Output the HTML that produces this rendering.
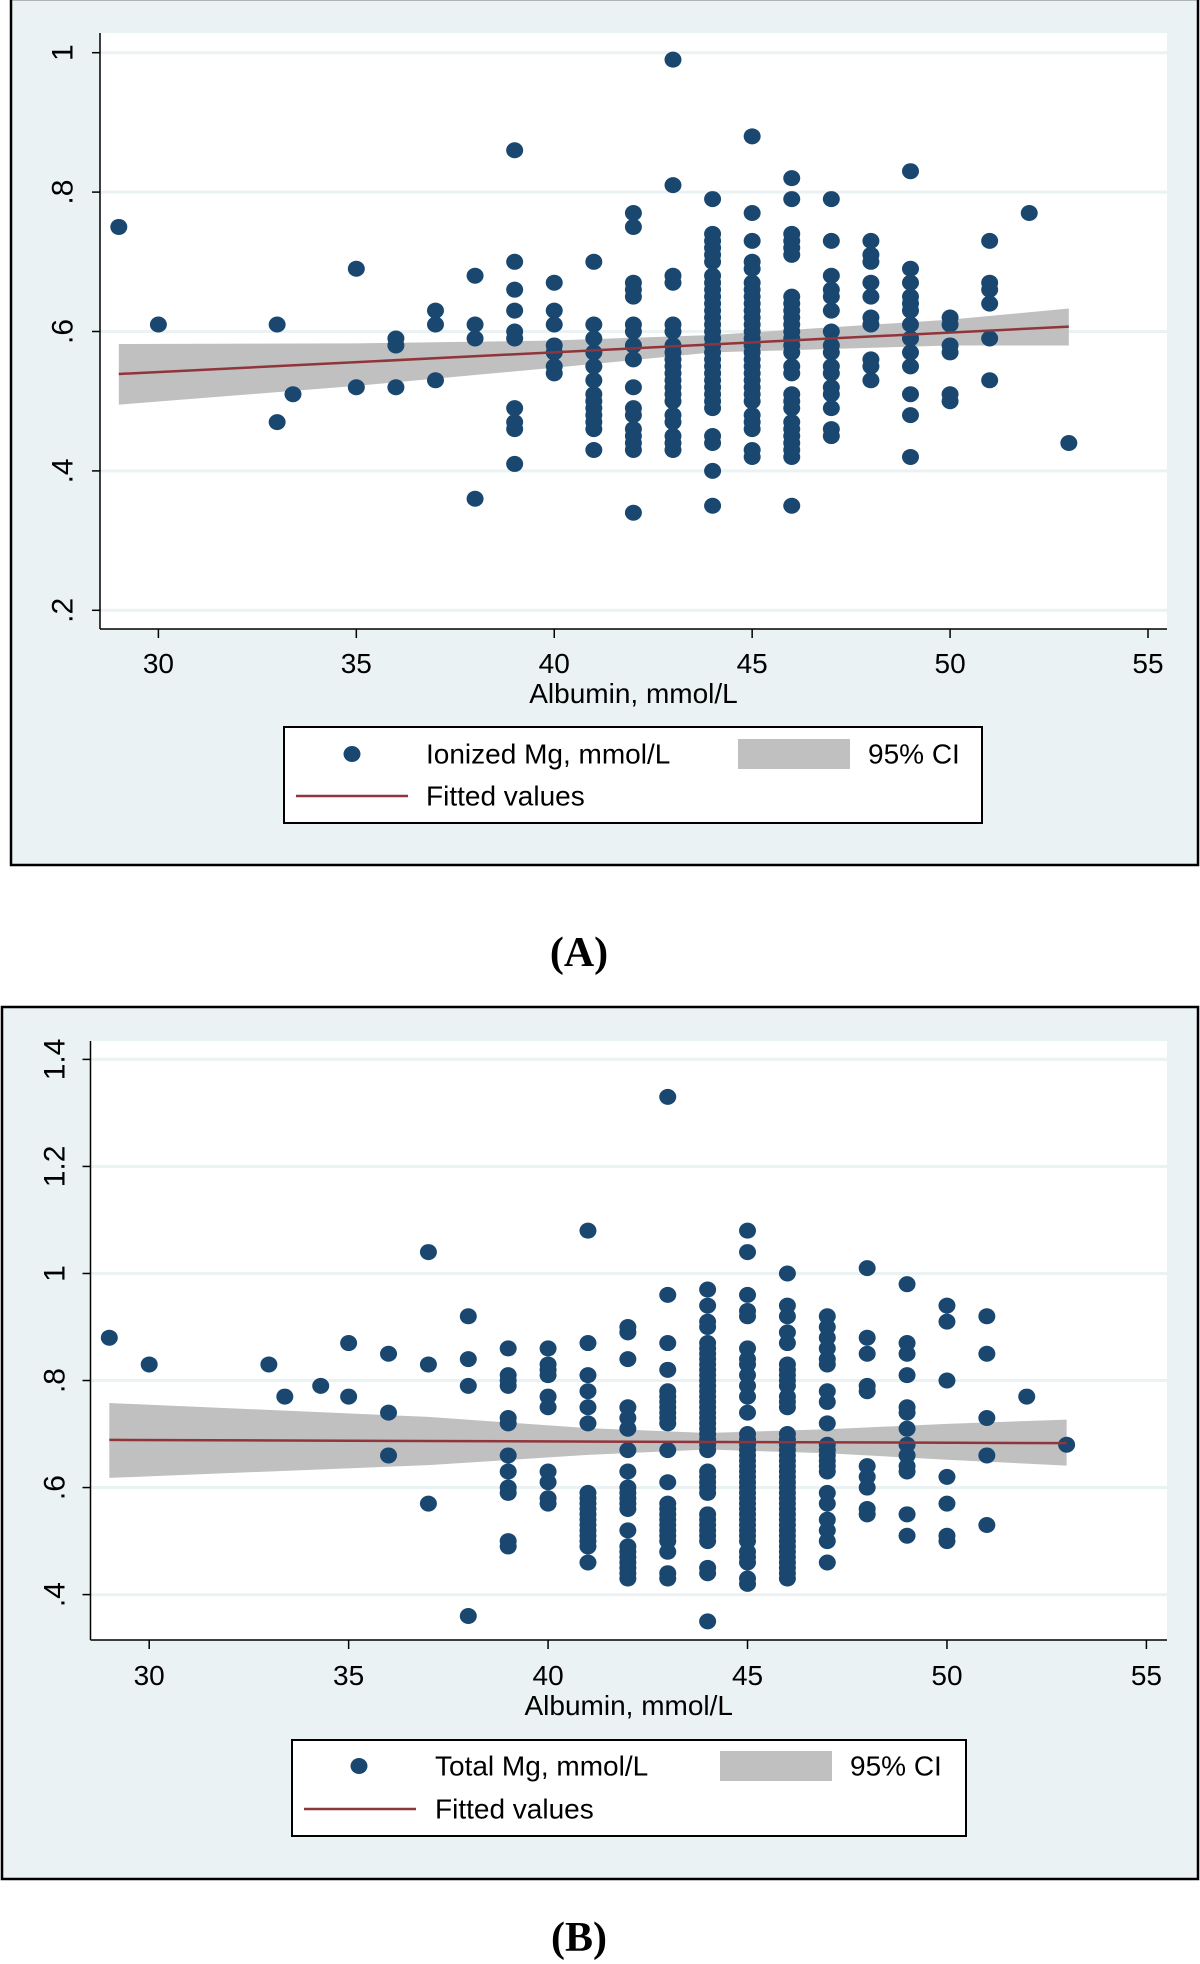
<!DOCTYPE html>
<html><head><meta charset="utf-8"><style>
html,body{margin:0;padding:0;background:#fff;width:1200px;height:1964px;overflow:hidden}
svg text{font-family:"Liberation Sans Narrow","Liberation Sans",sans-serif;fill:#000}
</style></head><body>
<svg id="fig" width="1200" height="1964" viewBox="0 0 1200 1964" xmlns="http://www.w3.org/2000/svg">
<g id="panelA"></g>
<g id="panelB"></g>
<text x="579" y="966" text-anchor="middle" style="font-family:'Liberation Serif',serif;font-weight:bold;font-size:42px">(A)</text>
<text x="579" y="1951" text-anchor="middle" style="font-family:'Liberation Serif',serif;font-weight:bold;font-size:42px">(B)</text>
</svg>
<script>
// ---- Panel A data ----
const aColX = [29,30,33,33.4,35,36,37,38,39,40,41,42,43,44,45,46,47,48,49,50,51,52,53];
const aColVals = [
 [.75],[.61],[.61,.47],[.51],[.69,.52],[.59,.58,.52],[.63,.61,.53],[.68,.61,.59,.36],
 [.86,.70,.66,.63,.60,.59,.49,.47,.46,.41],
 [.67,.63,.61,.58,.57,.55,.54],
 [.70,.61,.59,.57,.55,.53,.51,.50,.49,.48,.47,.46,.43],
 [.77,.75,.67,.66,.65,.61,.60,.58,.56,.52,.49,.48,.46,.45,.44,.43,.34],
 [.99,.81,.68,.67,.61,.60,.58,.57,.56,.55,.54,.53,.52,.51,.50,.48,.47,.45,.44,.43],
 [.79,.74,.73,.72,.71,.70,.68,.67,.66,.65,.64,.63,.62,.61,.60,.59,.58,.57,.56,.55,.54,.53,.52,.51,.50,.49,.45,.44,.40,.35],
 [.88,.77,.73,.70,.69,.67,.66,.65,.64,.63,.62,.61,.60,.59,.58,.57,.56,.55,.54,.53,.52,.51,.50,.48,.47,.46,.43,.42],
 [.82,.79,.74,.73,.72,.71,.65,.64,.63,.62,.61,.60,.59,.58,.57,.55,.54,.51,.50,.49,.47,.46,.45,.44,.43,.42,.35],
 [.79,.73,.68,.66,.65,.63,.60,.58,.57,.55,.54,.52,.51,.49,.46,.45],
 [.73,.71,.70,.67,.65,.62,.61,.56,.55,.53],
 [.83,.69,.67,.65,.64,.63,.61,.59,.57,.55,.51,.48,.42],
 [.62,.61,.58,.57,.51,.50],
 [.73,.67,.66,.64,.59,.53],[.77],[.44]
];
const aFitX = [29,53];
const aFitY = [.539,.607];
const aCiX  = [29,35,40,44,50,53];
const aCiHi = [.582,.583,.587,.595,.617,.633];
const aCiLo = [.495,.522,.548,.570,.580,.580];
const aYTicks = [.2,.4,.6,.8,1];
const aYLabels = [".2",".4",".6",".8","1"];
const xTicks = [30,35,40,45,50,55];
const xLabels = ["30","35","40","45","50","55"];

// ---- Panel B data ----
const bColX = [29,30,33,33.4,34.3,35,36,37,38,39,40,41,42,43,44,45,46,47,48,49,50,51,52,53];
const bColVals = [
 [.88],[.83],[.83],[.77],[.79],[.87,.77],[.85,.74,.66],[1.04,.83,.57],[.92,.84,.79,.36],
 [.86,.81,.80,.79,.73,.72,.66,.63,.60,.59,.50,.49],
 [.86,.83,.82,.81,.77,.75,.63,.61,.58,.57],
 [1.08,.87,.81,.78,.75,.72,.59,.58,.57,.56,.55,.54,.53,.52,.51,.50,.49,.46],
 [.90,.89,.84,.75,.73,.71,.67,.63,.60,.59,.58,.57,.56,.52,.49,.48,.47,.46,.45,.44,.43],
 [1.33,.96,.87,.82,.78,.77,.76,.75,.74,.73,.72,.67,.61,.57,.56,.55,.54,.53,.52,.51,.50,.48,.44,.43],
 [.97,.94,.91,.90,.87,.86,.85,.84,.83,.82,.81,.80,.79,.78,.77,.76,.75,.74,.73,.72,.71,.70,.69,.68,.67,.63,.62,.61,.60,.59,.55,.54,.53,.52,.51,.50,.45,.44,.35],
 [1.08,1.04,.96,.93,.92,.86,.84,.83,.81,.79,.77,.74,.70,.69,.68,.67,.66,.65,.64,.63,.62,.61,.60,.59,.58,.57,.56,.55,.54,.53,.52,.51,.50,.48,.47,.46,.43,.42],
 [1.00,.94,.92,.89,.87,.83,.82,.81,.80,.79,.77,.76,.75,.70,.69,.68,.67,.66,.65,.64,.63,.62,.61,.60,.59,.58,.57,.56,.55,.54,.53,.52,.51,.50,.49,.48,.47,.46,.45,.44,.43],
 [.92,.90,.88,.86,.84,.83,.78,.76,.72,.68,.67,.66,.65,.64,.63,.59,.57,.54,.52,.50,.46],
 [1.01,.88,.85,.79,.78,.64,.62,.60,.56,.55],
 [.98,.87,.85,.81,.75,.74,.71,.68,.66,.64,.63,.55,.51],
 [.94,.91,.80,.62,.57,.51,.50],
 [.92,.85,.73,.66,.53],[.77],[.68]
];
const bFitX = [29,53];
const bFitY = [.689,.683];
const bCiX  = [29,37,41,44,47,50,53];
const bCiHi = [.758,.732,.711,.702,.709,.719,.727];
const bCiLo = [.618,.642,.661,.671,.664,.652,.641];
const bYTicks = [.4,.6,.8,1,1.2,1.4];
const bYLabels = [".4",".6",".8","1","1.2","1.4"];

const NS = "http://www.w3.org/2000/svg";
function mk(parent, tag, attrs, txt){
  const e = document.createElementNS(NS, tag);
  for (const k in attrs) e.setAttribute(k, attrs[k]);
  if (txt !== undefined) e.textContent = txt;
  parent.appendChild(e);
  return e;
}

function drawPanel(g, cfg){
  const {frame, plot, xDom, yDom, colX, colVals, fitX, fitY, ciX, ciHi, ciLo, yTicks, yLabels, ylabX, xlabY, titleY, legend, seriesName} = cfg;
  const sx = v => plot.x0t + (v - xDom[0])/(xDom[1]-xDom[0])*(plot.x1t-plot.x0t);
  const sy = v => plot.y0t + (v - yDom[0])/(yDom[1]-yDom[0])*(plot.y1t-plot.y0t);

  const bg = mk(g,'rect',{x:frame.x,y:frame.y,width:frame.w,height:frame.h,fill:'#eaf2f3',stroke:'#000','stroke-width':2.5});
  
  
  const pa = mk(g,'rect',{x:plot.left,y:plot.top,width:plot.right-plot.left,height:plot.bottom-plot.top,fill:'#fff'});
  
  

  yTicks.forEach((t,i)=>{
    const y = sy(t);
    const gl = mk(g,'line',{x1:plot.left,x2:plot.right,y1:y,y2:y,stroke:'#eaf2f3','stroke-width':3});
    
    
    mk(g,'line',{x1:plot.left-8,x2:plot.left,y1:y,y2:y,stroke:'#000','stroke-width':1.5});
    const tl = mk(g,'text',{x:ylabX,y:y,'font-size':30,'text-anchor':'middle','dominant-baseline':'central',transform:'rotate(-90 '+ylabX+' '+y+')'}, yLabels[i]);
    
    
  });
  xTicks.forEach((t,i)=>{
    const x = sx(t);
    mk(g,'line',{x1:x,x2:x,y1:plot.bottom,y2:plot.bottom+9,stroke:'#000','stroke-width':1.5});
    const tl = mk(g,'text',{x:x,y:xlabY,'font-size':28,'text-anchor':'middle'}, xLabels[i]);
    
    
  });
  mk(g,'line',{x1:plot.left,x2:plot.left,y1:plot.top,y2:plot.bottom,stroke:'#000','stroke-width':1.5});
  mk(g,'line',{x1:plot.left,x2:plot.right,y1:plot.bottom,y2:plot.bottom,stroke:'#000','stroke-width':1.5});

  // CI band (linear segments)
  const up = ciX.map((x,i)=>sx(x)+","+sy(ciHi[i]));
  const lo = ciX.map((x,i)=>sx(x)+","+sy(ciLo[i])).reverse();
  const ci = mk(g,'polygon',{points:up.concat(lo).join(" "),fill:'#c0c0c0',stroke:'none'});
  
  

  colX.forEach((x,i)=>{
    colVals[i].forEach(v=>{
      const c = mk(g,'ellipse',{cx:sx(x),cy:sy(v),rx:8.5,ry:8,fill:'#1a476f'});
      
      
    });
  });

  const fl = mk(g,'line',{x1:sx(fitX[0]),y1:sy(fitY[0]),x2:sx(fitX[1]),y2:sy(fitY[1]),stroke:'#90353b','stroke-width':2.5});
  
  

  const xt = mk(g,'text',{x:(plot.left+plot.right)/2,y:titleY,'font-size':28,'text-anchor':'middle'},'Albumin, mmol/L');
  
  

  const L = legend;
  const lg = mk(g,'g',{});
  
  
  mk(lg,'rect',{x:L.x,y:L.y,width:L.w,height:L.h,fill:'#fff',stroke:'#000','stroke-width':2});
  const e1 = mk(lg,'g',{});
  
  
  mk(e1,'ellipse',{cx:L.dotX,cy:L.row1,rx:8.5,ry:8,fill:'#1a476f'});
  mk(e1,'text',{x:L.textX,y:L.row1,'font-size':28,'dominant-baseline':'central'},seriesName);
  const e2 = mk(lg,'g',{});
  
  
  mk(e2,'rect',{x:L.ciX,y:L.row1-15,width:112,height:30,fill:'#c0c0c0'});
  mk(e2,'text',{x:L.ciTextX,y:L.row1,'font-size':28,'dominant-baseline':'central'},'95% CI');
  const e3 = mk(lg,'g',{});
  
  
  mk(e3,'line',{x1:L.lineX,x2:L.lineX+112,y1:L.row2,y2:L.row2,stroke:'#90353b','stroke-width':2.5});
  mk(e3,'text',{x:L.textX,y:L.row2,'font-size':28,'dominant-baseline':'central'},'Fitted values');
}

drawPanel(document.getElementById('panelA'),{
  frame:{x:11,y:-1,w:1187,h:866},
  plot:{left:100,right:1167,top:33,bottom:629,x0t:158.4,x1t:1148,y0t:610.3,y1t:52.7},
  xDom:[30,55], yDom:[.2,1],
  colX:aColX, colVals:aColVals, fitX:aFitX, fitY:aFitY, ciX:aCiX, ciHi:aCiHi, ciLo:aCiLo,
  yTicks:aYTicks, yLabels:aYLabels, ylabX:63, xlabY:673, titleY:703,
  legend:{x:284,y:727,w:698,h:96,row1:754,row2:796,dotX:352,textX:426,ciX:738,ciTextX:868,lineX:296},
  seriesName:'Ionized Mg, mmol/L'
});
drawPanel(document.getElementById('panelB'),{
  frame:{x:2,y:1007,w:1196,h:872},
  plot:{left:90.5,right:1167,top:1041,bottom:1640,x0t:149.2,x1t:1146.4,y0t:1594.6,y1t:1059.4},
  xDom:[30,55], yDom:[.4,1.4],
  colX:bColX, colVals:bColVals, fitX:bFitX, fitY:bFitY, ciX:bCiX, ciHi:bCiHi, ciLo:bCiLo,
  yTicks:bYTicks, yLabels:bYLabels, ylabX:55, xlabY:1685, titleY:1715,
  legend:{x:292,y:1740,w:674,h:96,row1:1766,row2:1809,dotX:359,textX:435,ciX:720,ciTextX:850,lineX:304},
  seriesName:'Total Mg, mmol/L'
});
</script>
</body></html>
